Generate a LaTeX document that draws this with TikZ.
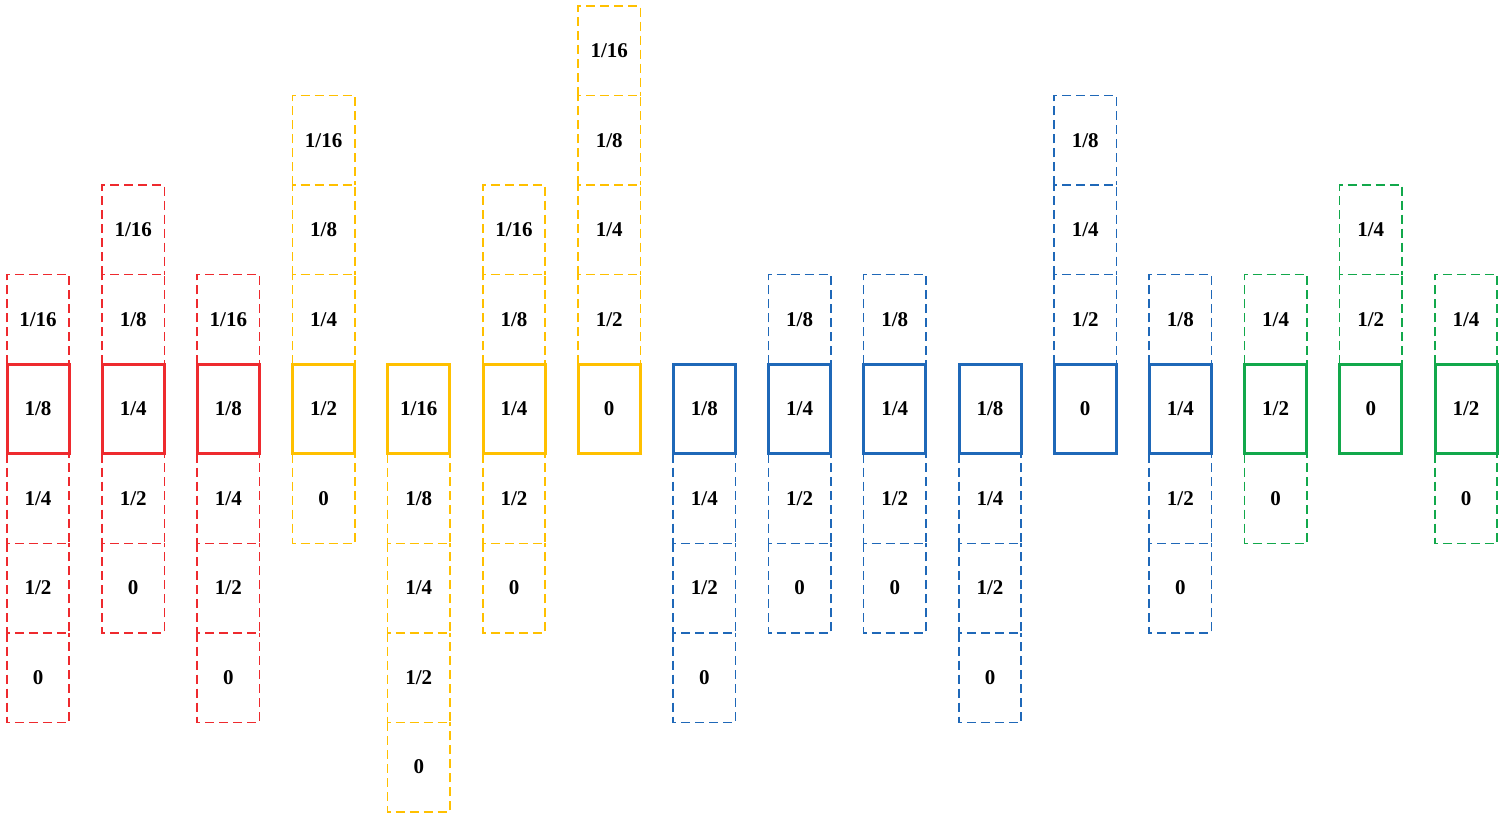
\documentclass[tikz,border=0pt]{standalone}
\usepackage{fontspec}
\setmainfont{Liberation Serif}
\definecolor{cr}{HTML}{EE2A2E}
\definecolor{cy}{HTML}{FFC000}
\definecolor{cb}{HTML}{1F68B8}
\definecolor{cg}{HTML}{12A84B}
\begin{document}
\begin{tikzpicture}[x=1pt,y=-1pt,
 cell/.style={minimum width=62pt,minimum height=89.5pt,inner sep=0pt,font=\bfseries\fontsize{21}{21}\selectfont,text=black},
 dline/.style={dashed,line width=1.6pt,dash pattern=on 9pt off 5pt},
 scell/.style={cell,draw,line width=3pt}]
\useasboundingbox (0,0) rectangle (1505,818);
\foreach \i/\c/\ab/\ce/\be in {
 1/cr/{1/16}/{1/8}/{1/4,1/2,0},
 2/cr/{1/8,1/16}/{1/4}/{1/2,0},
 3/cr/{1/16}/{1/8}/{1/4,1/2,0},
 4/cy/{1/4,1/8,1/16}/{1/2}/{0},
 5/cy/{}/{1/16}/{1/8,1/4,1/2,0},
 6/cy/{1/8,1/16}/{1/4}/{1/2,0},
 7/cy/{1/2,1/4,1/8,1/16}/{0}/{},
 8/cb/{}/{1/8}/{1/4,1/2,0},
 9/cb/{1/8}/{1/4}/{1/2,0},
 10/cb/{1/8}/{1/4}/{1/2,0},
 11/cb/{}/{1/8}/{1/4,1/2,0},
 12/cb/{1/2,1/4,1/8}/{0}/{},
 13/cb/{1/8}/{1/4}/{1/2,0},
 14/cg/{1/4}/{1/2}/{0},
 15/cg/{1/2,1/4}/{0}/{},
 16/cg/{1/4}/{1/2}/{0}}{
 \pgfmathsetmacro\xx{38+95.2*(\i-1)}
 \foreach \t [count=\k] in \ab {
   \node[cell] (c\i a\k) at (\xx,409-89.5*\k) {\t};
   \draw[dline,draw=\c] (c\i a\k.south west) -- (c\i a\k.north west) -- (c\i a\k.north east) -- (c\i a\k.south east);}
 \foreach \t [count=\k] in \be {
   \node[cell] (c\i b\k) at (\xx,409+89.5*\k) {\t};
   \draw[dline,draw=\c] (c\i b\k.north west) -- (c\i b\k.south west) -- (c\i b\k.south east) -- (c\i b\k.north east);}
 \node[scell,draw=\c,fill=white] (c\i m) at (\xx,409) {\ce};
}
\end{tikzpicture}
\end{document}
